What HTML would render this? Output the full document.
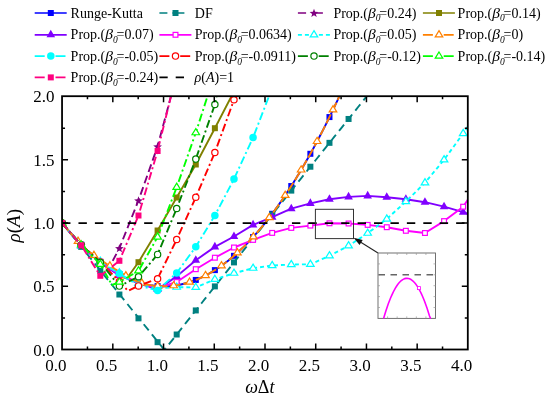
<!DOCTYPE html>
<html><head><meta charset="utf-8"><style>html,body{margin:0;padding:0;background:#fff;}svg{display:block}</style></head>
<body>
<svg width="550" height="401" viewBox="0 0 550 401" font-family="'Liberation Serif', 'Times New Roman', serif">
<rect width="550" height="401" fill="#fff"/>
<clipPath id="pc"><rect x="62.05" y="96.2" width="405.75" height="253.3"/></clipPath>
<g clip-path="url(#pc)">
<path d="M62.1,223.05 L63.11,224.31 L64.13,225.56 L65.14,226.79 L66.16,228.01 L67.17,229.22 L68.19,230.42 L69.2,231.6 L70.22,232.77 L71.23,233.93 L72.25,235.07 L73.26,236.2 L74.27,237.32 L75.29,238.43 L76.3,239.53 L77.32,240.61 L78.33,241.68 L79.35,242.73 L80.36,243.78 L81.38,244.81 L82.39,245.83 L83.4,246.84 L84.42,247.83 L85.43,248.81 L86.45,249.78 L87.46,250.73 L88.48,251.68 L89.49,252.61 L90.51,253.52 L91.52,254.43 L92.53,255.32 L93.55,256.2 L94.56,257.07 L95.58,257.92 L96.59,258.76 L97.61,259.59 L98.62,260.41 L99.64,261.21 L100.65,262 L101.67,262.78 L102.68,263.55 L103.69,264.3 L104.71,265.04 L105.72,265.77 L106.74,266.48 L107.75,267.18 L108.77,267.87 L109.78,268.55 L110.8,269.22 L111.81,269.87 L112.82,270.51 L113.84,271.13 L114.85,271.75 L115.87,272.35 L116.88,272.94 L117.9,273.51 L118.91,274.07 L119.93,274.63 L120.94,275.16 L121.96,275.69 L122.97,276.2 L123.98,276.7 L125,277.19 L126.01,277.66 L127.03,278.12 L128.04,278.57 L129.06,279.01 L130.07,279.43 L131.09,279.85 L132.1,280.24 L133.12,280.63 L134.13,281 L135.14,281.36 L136.16,281.71 L137.17,282.05 L138.19,282.37 L139.2,282.68 L140.22,282.98 L141.23,283.26 L142.25,283.53 L143.26,283.79 L144.27,284.04 L145.29,284.27 L146.3,284.5 L147.32,284.71 L148.33,284.9 L149.35,285.08 L150.36,285.26 L151.38,285.41 L152.39,285.56 L153.41,285.69 L154.42,285.81 L155.43,285.92 L156.45,286.01 L157.46,286.1 L158.48,286.17 L159.49,286.22 L160.51,286.27 L161.52,286.3 L162.54,286.32 L163.55,286.33 L164.56,286.32 L165.58,286.3 L166.59,286.27 L167.61,286.22 L168.62,286.17 L169.64,286.1 L170.65,286.01 L171.67,285.92 L172.68,285.81 L173.69,285.69 L174.71,285.56 L175.72,285.41 L176.74,285.26 L177.75,285.08 L178.77,284.9 L179.78,284.71 L180.8,284.5 L181.81,284.27 L182.83,284.04 L183.84,283.79 L184.85,283.53 L185.87,283.26 L186.88,282.98 L187.9,282.68 L188.91,282.37 L189.93,282.05 L190.94,281.71 L191.96,281.36 L192.97,281 L193.98,280.63 L195,280.24 L196.01,279.85 L197.03,279.43 L198.04,279.01 L199.06,278.57 L200.07,278.12 L201.09,277.66 L202.1,277.19 L203.12,276.7 L204.13,276.2 L205.14,275.69 L206.16,275.16 L207.17,274.63 L208.19,274.07 L209.2,273.51 L210.22,272.94 L211.23,272.35 L212.25,271.75 L213.26,271.13 L214.27,270.51 L215.29,269.87 L216.3,269.22 L217.32,268.55 L218.33,267.87 L219.35,267.18 L220.36,266.48 L221.38,265.77 L222.39,265.04 L223.41,264.3 L224.42,263.55 L225.43,262.78 L226.45,262 L227.46,261.21 L228.48,260.41 L229.49,259.59 L230.51,258.76 L231.52,257.92 L232.54,257.07 L233.55,256.2 L234.56,255.32 L235.58,254.43 L236.59,253.52 L237.61,252.61 L238.62,251.68 L239.64,250.73 L240.65,249.78 L241.67,248.81 L242.68,247.83 L243.7,246.84 L244.71,245.83 L245.72,244.81 L246.74,243.78 L247.75,242.73 L248.77,241.68 L249.78,240.61 L250.8,239.53 L251.81,238.43 L252.83,237.32 L253.84,236.2 L254.85,235.07 L255.87,233.93 L256.88,232.77 L257.9,231.6 L258.91,230.42 L259.93,229.22 L260.94,228.01 L261.96,226.79 L262.97,225.56 L263.99,224.31 L265,223.05 L266.01,221.78 L267.03,220.49 L268.04,219.2 L269.06,217.89 L270.07,216.56 L271.09,215.23 L272.1,213.88 L273.12,212.52 L274.13,211.15 L275.14,209.76 L276.16,208.36 L277.17,206.95 L278.19,205.53 L279.2,204.09 L280.22,202.64 L281.23,201.18 L282.25,199.71 L283.26,198.22 L284.28,196.72 L285.29,195.21 L286.3,193.68 L287.32,192.15 L288.33,190.6 L289.35,189.03 L290.36,187.46 L291.38,185.87 L292.39,184.27 L293.41,182.66 L294.42,181.03 L295.44,179.39 L296.45,177.74 L297.46,176.07 L298.48,174.4 L299.49,172.71 L300.51,171.01 L301.52,169.29 L302.54,167.56 L303.55,165.82 L304.57,164.07 L305.58,162.31 L306.59,160.53 L307.61,158.74 L308.62,156.93 L309.64,155.12 L310.65,153.29 L311.67,151.45 L312.68,149.59 L313.7,147.73 L314.71,145.85 L315.72,143.96 L316.74,142.05 L317.75,140.13 L318.77,138.2 L319.78,136.26 L320.8,134.31 L321.81,132.34 L322.83,130.36 L323.84,128.37 L324.86,126.36 L325.87,124.34 L326.88,122.31 L327.9,120.27 L328.91,118.21 L329.93,116.14 L330.94,114.06 L331.96,111.96 L332.97,109.86 L333.99,107.74 L335,105.61 L336.01,103.46 L337.03,101.3 L338.04,99.13 L339.06,96.95 L340.07,94.75 L341.09,92.55 L342.1,90.32 L343.12,88.09 L344.13,85.84 L345.15,83.59 L346.16,81.31 L347.17,79.03 L348.19,76.73 L349.2,74.42 L350.22,72.1" fill="none" stroke="#0000FF" stroke-width="1.9" stroke-linejoin="round"/>
<rect x="59.1" y="220.05" width="6" height="6" fill="#0000FF"/>
<rect x="78.2" y="241.63" width="6" height="6" fill="#0000FF"/>
<rect x="97.3" y="258.73" width="6" height="6" fill="#0000FF"/>
<rect x="116.39" y="271.34" width="6" height="6" fill="#0000FF"/>
<rect x="135.49" y="279.46" width="6" height="6" fill="#0000FF"/>
<rect x="154.59" y="283.11" width="6" height="6" fill="#0000FF"/>
<rect x="173.69" y="282.26" width="6" height="6" fill="#0000FF"/>
<rect x="192.79" y="276.94" width="6" height="6" fill="#0000FF"/>
<rect x="211.88" y="267.12" width="6" height="6" fill="#0000FF"/>
<rect x="230.98" y="252.83" width="6" height="6" fill="#0000FF"/>
<rect x="250.08" y="234.05" width="6" height="6" fill="#0000FF"/>
<rect x="269.18" y="210.78" width="6" height="6" fill="#0000FF"/>
<rect x="288.28" y="183.03" width="6" height="6" fill="#0000FF"/>
<rect x="307.37" y="150.79" width="6" height="6" fill="#0000FF"/>
<rect x="326.47" y="114.07" width="6" height="6" fill="#0000FF"/>
<path d="M62.1,223.05 L163.55,348.84 L165.58,348.55 L167.61,345.99 L169.64,343.42 L171.67,340.86 L173.69,338.29 L175.72,335.73 L177.75,333.17 L179.78,330.61 L181.81,328.04 L183.84,325.48 L185.87,322.93 L187.9,320.37 L189.93,317.81 L191.96,315.25 L193.98,312.69 L196.01,310.14 L198.04,307.58 L200.07,305.03 L202.1,302.47 L204.13,299.92 L206.16,297.37 L208.19,294.81 L210.22,292.26 L212.25,289.71 L214.27,287.16 L216.3,284.61 L218.33,282.06 L220.36,279.51 L222.39,276.96 L224.42,274.41 L226.45,271.86 L228.48,269.31 L230.51,266.76 L232.54,264.22 L234.56,261.67 L236.59,259.12 L238.62,256.58 L240.65,254.03 L242.68,251.49 L244.71,248.94 L246.74,246.4 L248.77,243.85 L250.8,241.31 L252.83,238.76 L254.85,236.22 L256.88,233.68 L258.91,231.13 L260.94,228.59 L262.97,226.05 L265,223.51 L267.03,220.97 L269.06,218.42 L271.09,215.88 L273.12,213.34 L275.14,210.8 L277.17,208.26 L279.2,205.72 L281.23,203.18 L283.26,200.64 L285.29,198.1 L287.32,195.56 L289.35,193.02 L291.38,190.48 L293.41,187.94 L295.43,185.4 L297.46,182.87 L299.49,180.33 L301.52,177.79 L303.55,175.25 L305.58,172.71 L307.61,170.18 L309.64,167.64 L311.67,165.1 L313.7,162.56 L315.72,160.03 L317.75,157.49 L319.78,154.95 L321.81,152.42 L323.84,149.88 L325.87,147.34 L327.9,144.81 L329.93,142.27 L331.96,139.73 L333.99,137.2 L336.01,134.66 L338.04,132.13 L340.07,129.59 L342.1,127.06 L344.13,124.52 L346.16,121.99 L348.19,119.45 L350.22,116.91 L352.25,114.38 L354.28,111.85 L356.31,109.31 L358.33,106.78 L360.36,104.24 L362.39,101.71 L364.42,99.17 L366.45,96.64 L368.48,94.1 L370.51,91.57 L372.54,89.04" fill="none" stroke="#008080" stroke-width="1.9" stroke-dasharray="8,5" stroke-linejoin="round"/>
<rect x="59.1" y="220.05" width="6" height="6" fill="#008080"/>
<rect x="78.2" y="243.87" width="6" height="6" fill="#008080"/>
<rect x="97.3" y="267.7" width="6" height="6" fill="#008080"/>
<rect x="116.39" y="291.52" width="6" height="6" fill="#008080"/>
<rect x="135.49" y="315.34" width="6" height="6" fill="#008080"/>
<rect x="154.59" y="339.17" width="6" height="6" fill="#008080"/>
<rect x="173.69" y="331.51" width="6" height="6" fill="#008080"/>
<rect x="192.79" y="307.43" width="6" height="6" fill="#008080"/>
<rect x="211.88" y="283.39" width="6" height="6" fill="#008080"/>
<rect x="230.98" y="259.4" width="6" height="6" fill="#008080"/>
<rect x="250.08" y="235.45" width="6" height="6" fill="#008080"/>
<rect x="269.18" y="211.52" width="6" height="6" fill="#008080"/>
<rect x="288.28" y="187.61" width="6" height="6" fill="#008080"/>
<rect x="307.37" y="163.72" width="6" height="6" fill="#008080"/>
<rect x="326.47" y="139.84" width="6" height="6" fill="#008080"/>
<rect x="345.57" y="115.97" width="6" height="6" fill="#008080"/>
<path d="M62.1,223.05 L81.2,245 L100.3,262 L109.5,267 L119.39,248.2 L138.49,200.4 L157.59,146.4 L172.34,91.18" fill="none" stroke="#800080" stroke-width="1.9" stroke-dasharray="8,4" stroke-linejoin="round"/>
<path d="M62.1,218.85 L63.24,221.89 L66.47,222.03 L63.94,224.05 L64.8,227.17 L62.1,225.38 L59.4,227.17 L60.26,224.05 L57.73,222.03 L60.96,221.89Z" fill="#800080"/>
<path d="M81.2,240.8 L82.33,243.84 L85.57,243.98 L83.04,246 L83.9,249.12 L81.2,247.33 L78.49,249.12 L79.36,246 L76.82,243.98 L80.06,243.84Z" fill="#800080"/>
<path d="M100.3,257.8 L101.43,260.84 L104.67,260.98 L102.13,263 L103,266.12 L100.3,264.33 L97.59,266.12 L98.46,263 L95.92,260.98 L99.16,260.84Z" fill="#800080"/>
<path d="M119.39,244 L120.53,247.04 L123.77,247.18 L121.23,249.2 L122.1,252.32 L119.39,250.53 L116.69,252.32 L117.56,249.2 L115.02,247.18 L118.26,247.04Z" fill="#800080"/>
<path d="M138.49,196.2 L139.63,199.24 L142.87,199.38 L140.33,201.4 L141.2,204.52 L138.49,202.73 L135.79,204.52 L136.65,201.4 L134.12,199.38 L137.36,199.24Z" fill="#800080"/>
<path d="M157.59,142.2 L158.73,145.24 L161.96,145.38 L159.43,147.4 L160.29,150.52 L157.59,148.73 L154.89,150.52 L155.75,147.4 L153.21,145.38 L156.45,145.24Z" fill="#800080"/>
<path d="M62.1,223.05 L81.2,245 L100.3,262 L119.39,274.5 L127.5,277.5 L138.49,262.2 L157.59,230.5 L176.69,197.5 L195.79,164.5 L214.88,128.2 L233.16,93" fill="none" stroke="#808000" stroke-width="1.9" stroke-linejoin="round"/>
<rect x="59.1" y="220.05" width="6" height="6" fill="#808000"/>
<rect x="78.2" y="242" width="6" height="6" fill="#808000"/>
<rect x="97.3" y="259" width="6" height="6" fill="#808000"/>
<rect x="116.39" y="271.5" width="6" height="6" fill="#808000"/>
<rect x="135.49" y="259.2" width="6" height="6" fill="#808000"/>
<rect x="154.59" y="227.5" width="6" height="6" fill="#808000"/>
<rect x="173.69" y="194.5" width="6" height="6" fill="#808000"/>
<rect x="192.79" y="161.5" width="6" height="6" fill="#808000"/>
<rect x="211.88" y="125.2" width="6" height="6" fill="#808000"/>
<path d="M62.1,223.05 L81.2,245.9 L100.3,262.9 L119.39,275.4 L138.49,283.4 L157.59,289.4 L176.69,276.4 L195.79,260.2 L214.88,246.9 L233.98,236.5 L253.08,224.9 L272.18,217.2 L291.28,208.7 L310.37,203.4 L329.47,199.3 L348.57,196.9 L367.67,195.9 L386.77,197.2 L405.86,199.2 L424.96,202.2 L444.06,206.7 L463.16,212.1 L467.9,213.8" fill="none" stroke="#8000FF" stroke-width="1.9" stroke-linejoin="round"/>
<path d="M62.1,217.98 L66.4,225.58 L57.8,225.58Z" fill="#8000FF"/>
<path d="M81.2,240.83 L85.5,248.43 L76.9,248.43Z" fill="#8000FF"/>
<path d="M100.3,257.83 L104.6,265.43 L96,265.43Z" fill="#8000FF"/>
<path d="M119.39,270.33 L123.69,277.93 L115.09,277.93Z" fill="#8000FF"/>
<path d="M138.49,278.33 L142.79,285.93 L134.19,285.93Z" fill="#8000FF"/>
<path d="M157.59,284.33 L161.89,291.93 L153.29,291.93Z" fill="#8000FF"/>
<path d="M176.69,271.33 L180.99,278.93 L172.39,278.93Z" fill="#8000FF"/>
<path d="M195.79,255.13 L200.09,262.73 L191.49,262.73Z" fill="#8000FF"/>
<path d="M214.88,241.83 L219.18,249.43 L210.58,249.43Z" fill="#8000FF"/>
<path d="M233.98,231.43 L238.28,239.03 L229.68,239.03Z" fill="#8000FF"/>
<path d="M253.08,219.83 L257.38,227.43 L248.78,227.43Z" fill="#8000FF"/>
<path d="M272.18,212.13 L276.48,219.73 L267.88,219.73Z" fill="#8000FF"/>
<path d="M291.28,203.63 L295.58,211.23 L286.98,211.23Z" fill="#8000FF"/>
<path d="M310.37,198.33 L314.67,205.93 L306.07,205.93Z" fill="#8000FF"/>
<path d="M329.47,194.23 L333.77,201.83 L325.17,201.83Z" fill="#8000FF"/>
<path d="M348.57,191.83 L352.87,199.43 L344.27,199.43Z" fill="#8000FF"/>
<path d="M367.67,190.83 L371.97,198.43 L363.37,198.43Z" fill="#8000FF"/>
<path d="M386.77,192.13 L391.07,199.73 L382.47,199.73Z" fill="#8000FF"/>
<path d="M405.86,194.13 L410.16,201.73 L401.56,201.73Z" fill="#8000FF"/>
<path d="M424.96,197.13 L429.26,204.73 L420.66,204.73Z" fill="#8000FF"/>
<path d="M444.06,201.63 L448.36,209.23 L439.76,209.23Z" fill="#8000FF"/>
<path d="M463.16,207.03 L467.46,214.63 L458.86,214.63Z" fill="#8000FF"/>
<path d="M62.1,223.05 L81.2,245 L100.3,262 L119.39,274.5 L138.49,282.5 L157.59,288 L176.69,282 L195.79,269.2 L214.88,257.7 L233.98,247.5 L253.08,239.9 L272.18,232.9 L291.28,227.9 L310.37,225.6 L329.47,223.3 L348.57,223.5 L367.67,224.9 L386.77,227.2 L405.86,230.8 L424.96,233 L444.06,221.1 L463.16,206.7 L467.9,199.5" fill="none" stroke="#FF00FF" stroke-width="1.9" stroke-linejoin="round"/>
<rect x="59.7" y="220.65" width="4.8" height="4.8" fill="#fff" stroke="#FF00FF" stroke-width="1.2"/>
<rect x="78.8" y="242.6" width="4.8" height="4.8" fill="#fff" stroke="#FF00FF" stroke-width="1.2"/>
<rect x="97.9" y="259.6" width="4.8" height="4.8" fill="#fff" stroke="#FF00FF" stroke-width="1.2"/>
<rect x="116.99" y="272.1" width="4.8" height="4.8" fill="#fff" stroke="#FF00FF" stroke-width="1.2"/>
<rect x="136.09" y="280.1" width="4.8" height="4.8" fill="#fff" stroke="#FF00FF" stroke-width="1.2"/>
<rect x="155.19" y="285.6" width="4.8" height="4.8" fill="#fff" stroke="#FF00FF" stroke-width="1.2"/>
<rect x="174.29" y="279.6" width="4.8" height="4.8" fill="#fff" stroke="#FF00FF" stroke-width="1.2"/>
<rect x="193.39" y="266.8" width="4.8" height="4.8" fill="#fff" stroke="#FF00FF" stroke-width="1.2"/>
<rect x="212.48" y="255.3" width="4.8" height="4.8" fill="#fff" stroke="#FF00FF" stroke-width="1.2"/>
<rect x="231.58" y="245.1" width="4.8" height="4.8" fill="#fff" stroke="#FF00FF" stroke-width="1.2"/>
<rect x="250.68" y="237.5" width="4.8" height="4.8" fill="#fff" stroke="#FF00FF" stroke-width="1.2"/>
<rect x="269.78" y="230.5" width="4.8" height="4.8" fill="#fff" stroke="#FF00FF" stroke-width="1.2"/>
<rect x="288.88" y="225.5" width="4.8" height="4.8" fill="#fff" stroke="#FF00FF" stroke-width="1.2"/>
<rect x="307.97" y="223.2" width="4.8" height="4.8" fill="#fff" stroke="#FF00FF" stroke-width="1.2"/>
<rect x="327.07" y="220.9" width="4.8" height="4.8" fill="#fff" stroke="#FF00FF" stroke-width="1.2"/>
<rect x="346.17" y="221.1" width="4.8" height="4.8" fill="#fff" stroke="#FF00FF" stroke-width="1.2"/>
<rect x="365.27" y="222.5" width="4.8" height="4.8" fill="#fff" stroke="#FF00FF" stroke-width="1.2"/>
<rect x="384.37" y="224.8" width="4.8" height="4.8" fill="#fff" stroke="#FF00FF" stroke-width="1.2"/>
<rect x="403.46" y="228.4" width="4.8" height="4.8" fill="#fff" stroke="#FF00FF" stroke-width="1.2"/>
<rect x="422.56" y="230.6" width="4.8" height="4.8" fill="#fff" stroke="#FF00FF" stroke-width="1.2"/>
<rect x="441.66" y="218.7" width="4.8" height="4.8" fill="#fff" stroke="#FF00FF" stroke-width="1.2"/>
<rect x="460.76" y="204.3" width="4.8" height="4.8" fill="#fff" stroke="#FF00FF" stroke-width="1.2"/>
<path d="M62.1,223.05 L81.2,245.9 L100.3,261.2 L119.39,272.9 L138.49,283.4 L157.59,288.4 L176.69,287.2 L195.79,287.4 L214.88,279.4 L233.98,273.2 L253.08,268.2 L272.18,265.5 L291.28,264.5 L310.37,264.3 L329.47,255.8 L348.57,245.8 L367.67,233.2 L386.77,219 L405.86,201.6 L424.96,182.8 L444.06,159.8 L463.16,133.5 L467.9,126.5" fill="none" stroke="#00FFFF" stroke-width="1.9" stroke-dasharray="4,3" stroke-linejoin="round"/>
<path d="M62.1,218.92 L65.88,225.12 L58.32,225.12Z" fill="#fff" stroke="#00FFFF" stroke-width="1.2" stroke-linejoin="miter"/>
<path d="M81.2,241.77 L84.98,247.97 L77.42,247.97Z" fill="#fff" stroke="#00FFFF" stroke-width="1.2" stroke-linejoin="miter"/>
<path d="M100.3,257.07 L104.08,263.27 L96.52,263.27Z" fill="#fff" stroke="#00FFFF" stroke-width="1.2" stroke-linejoin="miter"/>
<path d="M119.39,268.77 L123.17,274.97 L115.61,274.97Z" fill="#fff" stroke="#00FFFF" stroke-width="1.2" stroke-linejoin="miter"/>
<path d="M138.49,279.27 L142.27,285.47 L134.71,285.47Z" fill="#fff" stroke="#00FFFF" stroke-width="1.2" stroke-linejoin="miter"/>
<path d="M157.59,284.27 L161.37,290.47 L153.81,290.47Z" fill="#fff" stroke="#00FFFF" stroke-width="1.2" stroke-linejoin="miter"/>
<path d="M176.69,283.07 L180.47,289.27 L172.91,289.27Z" fill="#fff" stroke="#00FFFF" stroke-width="1.2" stroke-linejoin="miter"/>
<path d="M195.79,283.27 L199.57,289.47 L192.01,289.47Z" fill="#fff" stroke="#00FFFF" stroke-width="1.2" stroke-linejoin="miter"/>
<path d="M214.88,275.27 L218.66,281.47 L211.1,281.47Z" fill="#fff" stroke="#00FFFF" stroke-width="1.2" stroke-linejoin="miter"/>
<path d="M233.98,269.07 L237.76,275.27 L230.2,275.27Z" fill="#fff" stroke="#00FFFF" stroke-width="1.2" stroke-linejoin="miter"/>
<path d="M253.08,264.07 L256.86,270.27 L249.3,270.27Z" fill="#fff" stroke="#00FFFF" stroke-width="1.2" stroke-linejoin="miter"/>
<path d="M272.18,261.37 L275.96,267.57 L268.4,267.57Z" fill="#fff" stroke="#00FFFF" stroke-width="1.2" stroke-linejoin="miter"/>
<path d="M291.28,260.37 L295.06,266.57 L287.5,266.57Z" fill="#fff" stroke="#00FFFF" stroke-width="1.2" stroke-linejoin="miter"/>
<path d="M310.37,260.17 L314.15,266.37 L306.59,266.37Z" fill="#fff" stroke="#00FFFF" stroke-width="1.2" stroke-linejoin="miter"/>
<path d="M329.47,251.67 L333.25,257.87 L325.69,257.87Z" fill="#fff" stroke="#00FFFF" stroke-width="1.2" stroke-linejoin="miter"/>
<path d="M348.57,241.67 L352.35,247.87 L344.79,247.87Z" fill="#fff" stroke="#00FFFF" stroke-width="1.2" stroke-linejoin="miter"/>
<path d="M367.67,229.07 L371.45,235.27 L363.89,235.27Z" fill="#fff" stroke="#00FFFF" stroke-width="1.2" stroke-linejoin="miter"/>
<path d="M386.77,214.87 L390.55,221.07 L382.99,221.07Z" fill="#fff" stroke="#00FFFF" stroke-width="1.2" stroke-linejoin="miter"/>
<path d="M405.86,197.47 L409.64,203.67 L402.08,203.67Z" fill="#fff" stroke="#00FFFF" stroke-width="1.2" stroke-linejoin="miter"/>
<path d="M424.96,178.67 L428.74,184.87 L421.18,184.87Z" fill="#fff" stroke="#00FFFF" stroke-width="1.2" stroke-linejoin="miter"/>
<path d="M444.06,155.67 L447.84,161.87 L440.28,161.87Z" fill="#fff" stroke="#00FFFF" stroke-width="1.2" stroke-linejoin="miter"/>
<path d="M463.16,129.37 L466.94,135.57 L459.38,135.57Z" fill="#fff" stroke="#00FFFF" stroke-width="1.2" stroke-linejoin="miter"/>
<path d="M62.1,223.04 L63.11,224.3 L64.13,225.55 L65.14,226.78 L66.16,228 L67.17,229.2 L68.19,230.39 L69.2,231.57 L70.22,232.74 L71.23,233.89 L72.25,235.02 L73.26,236.14 L74.27,237.25 L75.29,238.34 L76.3,239.42 L77.32,240.48 L78.33,241.52 L79.35,242.55 L80.36,243.56 L81.38,244.56 L82.39,245.54 L83.4,246.49 L84.42,247.44 L85.43,248.36 L86.45,249.26 L87.46,250.15 L88.48,251.02 L89.49,251.86 L90.51,252.69 L91.52,253.5 L92.53,254.3 L93.55,255.07 L94.56,255.83 L95.58,256.57 L96.59,257.29 L97.61,258 L98.62,258.7 L99.64,259.39 L100.65,260.06 L101.67,260.72 L102.68,261.38 L103.69,262.03 L104.71,262.67 L105.72,263.3 L106.74,263.94 L107.75,264.57 L108.77,265.2 L109.78,265.83 L110.8,266.46 L111.81,267.09 L112.82,267.72 L113.84,268.36 L114.85,268.99 L115.87,269.63 L116.88,270.26 L117.9,270.9 L118.91,271.53 L119.93,272.16 L120.94,272.79 L121.96,273.41 L122.97,274.03 L123.98,274.64 L125,275.25 L126.01,275.84 L127.03,276.42 L128.04,276.99 L129.06,277.54 L130.07,278.08 L131.09,278.61 L132.1,279.12 L133.12,279.61 L134.13,280.08 L135.14,280.53 L136.16,280.97 L137.17,281.39 L138.19,281.79 L139.2,282.17 L140.22,282.53 L141.23,282.87 L142.25,283.19 L143.26,283.5 L144.27,283.79 L145.29,284.06 L146.3,284.31 L147.32,284.55 L148.33,284.77 L149.35,284.98 L150.36,285.16 L151.38,285.34 L152.39,285.5 L153.41,285.64 L154.42,285.77 L155.43,285.89 L156.45,285.99 L157.46,286.08 L158.48,286.15 L159.49,286.21 L160.51,286.26 L161.52,286.29 L162.54,286.31 L163.55,286.32 L164.56,286.31 L165.58,286.3 L166.59,286.27 L167.61,286.22 L168.62,286.17 L169.64,286.1 L170.65,286.01 L171.67,285.92 L172.68,285.81 L173.69,285.69 L174.71,285.56 L175.72,285.41 L176.74,285.26 L177.75,285.08 L178.77,284.9 L179.78,284.71 L180.8,284.5 L181.81,284.27 L182.83,284.04 L183.84,283.79 L184.85,283.53 L185.87,283.26 L186.88,282.98 L187.9,282.68 L188.91,282.37 L189.93,282.05 L190.94,281.71 L191.96,281.36 L192.97,281 L193.98,280.63 L195,280.24 L196.01,279.85 L197.03,279.43 L198.04,279.01 L199.06,278.57 L200.07,278.12 L201.09,277.66 L202.1,277.19 L203.12,276.7 L204.13,276.2 L205.14,275.69 L206.16,275.16 L207.17,274.63 L208.19,274.07 L209.2,273.51 L210.22,272.94 L211.23,272.35 L212.25,271.75 L213.26,271.13 L214.27,270.51 L215.29,269.87 L216.3,269.22 L217.32,268.55 L218.33,267.87 L219.35,267.18 L220.36,266.48 L221.38,265.77 L222.39,265.04 L223.41,264.3 L224.42,263.55 L225.43,262.78 L226.45,262 L227.46,261.21 L228.48,260.41 L229.49,259.59 L230.51,258.76 L231.52,257.92 L232.54,257.07 L233.55,256.2 L234.56,255.32 L235.58,254.43 L236.59,253.52 L237.61,252.61 L238.62,251.68 L239.64,250.73 L240.65,249.78 L241.67,248.81 L242.68,247.83 L243.7,246.84 L244.71,245.83 L245.72,244.81 L246.74,243.78 L247.75,242.73 L248.77,241.68 L249.78,240.61 L250.8,239.53 L251.81,238.43 L252.83,237.32 L253.84,236.2 L254.85,235.07 L255.87,233.93 L256.88,232.77 L257.9,231.6 L258.91,230.42 L259.93,229.22 L260.94,228.01 L261.96,226.79 L262.97,225.56 L263.99,224.31 L265,223.05 L266.01,221.78 L267.03,220.49 L268.04,219.2 L269.06,217.89 L270.07,216.56 L271.09,215.23 L272.1,213.88 L273.12,212.52 L274.13,211.15 L275.14,209.76 L276.16,208.36 L277.17,206.95 L278.19,205.53 L279.2,204.09 L280.22,202.64 L281.23,201.18 L282.25,199.71 L283.26,198.22 L284.28,196.72 L285.29,195.21 L286.3,193.68 L287.32,192.15 L288.33,190.6 L289.35,189.03 L290.36,187.46 L291.38,185.87 L292.39,184.27 L293.41,182.66 L294.42,181.03 L295.44,179.39 L296.45,177.74 L297.46,176.07 L298.48,174.4 L299.49,172.71 L300.51,171.01 L301.52,169.29 L302.54,167.56 L303.55,165.82 L304.57,164.07 L305.58,162.31 L306.59,160.53 L307.61,158.74 L308.62,156.93 L309.64,155.12 L310.65,153.29 L311.67,151.45 L312.68,149.59 L313.7,147.73 L314.71,145.85 L315.72,143.96 L316.74,142.05 L317.75,140.13 L318.77,138.2 L319.78,136.26 L320.8,134.31 L321.81,132.34 L322.83,130.36 L323.84,128.37 L324.86,126.36 L325.87,124.34 L326.88,122.31 L327.9,120.27 L328.91,118.21 L329.93,116.14 L330.94,114.06 L331.96,111.96 L332.97,109.86 L333.99,107.74 L335,105.61 L336.01,103.46 L337.03,101.3 L338.04,99.13 L339.06,96.95 L340.07,94.75 L341.09,92.55 L342.1,90.32 L343.12,88.09 L344.13,85.84 L345.15,83.59 L346.16,81.31 L347.17,79.03 L348.19,76.73 L349.2,74.42 L350.22,72.1" fill="none" stroke="#FF8000" stroke-width="1.9" stroke-dasharray="10,3" stroke-linejoin="round"/>
<path d="M62.1,218.91 L65.88,225.11 L58.32,225.11Z" fill="#fff" stroke="#FF8000" stroke-width="1.2" stroke-linejoin="miter"/>
<path d="M78.04,237.09 L81.82,243.29 L74.26,243.29Z" fill="#fff" stroke="#FF8000" stroke-width="1.2" stroke-linejoin="miter"/>
<path d="M93.97,251.25 L97.75,257.45 L90.19,257.45Z" fill="#fff" stroke="#FF8000" stroke-width="1.2" stroke-linejoin="miter"/>
<path d="M109.91,261.77 L113.69,267.97 L106.13,267.97Z" fill="#fff" stroke="#FF8000" stroke-width="1.2" stroke-linejoin="miter"/>
<path d="M125.84,271.61 L129.62,277.81 L122.06,277.81Z" fill="#fff" stroke="#FF8000" stroke-width="1.2" stroke-linejoin="miter"/>
<path d="M141.78,278.91 L145.56,285.11 L138,285.11Z" fill="#fff" stroke="#FF8000" stroke-width="1.2" stroke-linejoin="miter"/>
<path d="M157.71,281.96 L161.49,288.16 L153.93,288.16Z" fill="#fff" stroke="#FF8000" stroke-width="1.2" stroke-linejoin="miter"/>
<path d="M173.65,281.56 L177.43,287.76 L169.87,287.76Z" fill="#fff" stroke="#FF8000" stroke-width="1.2" stroke-linejoin="miter"/>
<path d="M189.59,278.02 L193.37,284.22 L185.81,284.22Z" fill="#fff" stroke="#FF8000" stroke-width="1.2" stroke-linejoin="miter"/>
<path d="M205.52,271.36 L209.3,277.56 L201.74,277.56Z" fill="#fff" stroke="#FF8000" stroke-width="1.2" stroke-linejoin="miter"/>
<path d="M221.46,261.58 L225.24,267.78 L217.68,267.78Z" fill="#fff" stroke="#FF8000" stroke-width="1.2" stroke-linejoin="miter"/>
<path d="M237.39,248.67 L241.17,254.87 L233.61,254.87Z" fill="#fff" stroke="#FF8000" stroke-width="1.2" stroke-linejoin="miter"/>
<path d="M253.33,232.64 L257.11,238.84 L249.55,238.84Z" fill="#fff" stroke="#FF8000" stroke-width="1.2" stroke-linejoin="miter"/>
<path d="M269.26,213.49 L273.04,219.69 L265.48,219.69Z" fill="#fff" stroke="#FF8000" stroke-width="1.2" stroke-linejoin="miter"/>
<path d="M285.2,191.21 L288.98,197.41 L281.42,197.41Z" fill="#fff" stroke="#FF8000" stroke-width="1.2" stroke-linejoin="miter"/>
<path d="M301.14,165.81 L304.92,172.01 L297.36,172.01Z" fill="#fff" stroke="#FF8000" stroke-width="1.2" stroke-linejoin="miter"/>
<path d="M317.07,137.29 L320.85,143.49 L313.29,143.49Z" fill="#fff" stroke="#FF8000" stroke-width="1.2" stroke-linejoin="miter"/>
<path d="M333.01,105.65 L336.79,111.85 L329.23,111.85Z" fill="#fff" stroke="#FF8000" stroke-width="1.2" stroke-linejoin="miter"/>
<path d="M62.1,223.05 L81.2,245 L100.3,262.5 L119.39,273.5 L138.49,285.5 L157.59,290.4 L176.69,273 L195.79,246.8 L214.88,215.5 L233.98,179.1 L253.08,137.5 L270.59,92.07" fill="none" stroke="#00FFFF" stroke-width="1.9" stroke-dasharray="8,3,2,3" stroke-linejoin="round"/>
<circle cx="62.1" cy="223.05" r="3.75" fill="#00FFFF"/>
<circle cx="81.2" cy="245" r="3.75" fill="#00FFFF"/>
<circle cx="100.3" cy="262.5" r="3.75" fill="#00FFFF"/>
<circle cx="119.39" cy="273.5" r="3.75" fill="#00FFFF"/>
<circle cx="138.49" cy="285.5" r="3.75" fill="#00FFFF"/>
<circle cx="157.59" cy="290.4" r="3.75" fill="#00FFFF"/>
<circle cx="176.69" cy="273" r="3.75" fill="#00FFFF"/>
<circle cx="195.79" cy="246.8" r="3.75" fill="#00FFFF"/>
<circle cx="214.88" cy="215.5" r="3.75" fill="#00FFFF"/>
<circle cx="233.98" cy="179.1" r="3.75" fill="#00FFFF"/>
<circle cx="253.08" cy="137.5" r="3.75" fill="#00FFFF"/>
<path d="M62.1,223.05 L81.2,245 L100.3,262 L119.39,281.5 L128,291 L138.49,285.9 L157.59,278.7 L176.69,239.5 L195.79,197.3 L214.88,152.5 L233.98,99.8 L235.1,95.84" fill="none" stroke="#FF0000" stroke-width="1.9" stroke-dasharray="8,3,2,3" stroke-linejoin="round"/>
<circle cx="62.1" cy="223.05" r="3.15" fill="#fff" stroke="#FF0000" stroke-width="1.2"/>
<circle cx="81.2" cy="245" r="3.15" fill="#fff" stroke="#FF0000" stroke-width="1.2"/>
<circle cx="100.3" cy="262" r="3.15" fill="#fff" stroke="#FF0000" stroke-width="1.2"/>
<circle cx="119.39" cy="281.5" r="3.15" fill="#fff" stroke="#FF0000" stroke-width="1.2"/>
<circle cx="138.49" cy="285.9" r="3.15" fill="#fff" stroke="#FF0000" stroke-width="1.2"/>
<circle cx="157.59" cy="278.7" r="3.15" fill="#fff" stroke="#FF0000" stroke-width="1.2"/>
<circle cx="176.69" cy="239.5" r="3.15" fill="#fff" stroke="#FF0000" stroke-width="1.2"/>
<circle cx="195.79" cy="197.3" r="3.15" fill="#fff" stroke="#FF0000" stroke-width="1.2"/>
<circle cx="214.88" cy="152.5" r="3.15" fill="#fff" stroke="#FF0000" stroke-width="1.2"/>
<circle cx="233.98" cy="99.8" r="3.15" fill="#fff" stroke="#FF0000" stroke-width="1.2"/>
<path d="M62.1,223.05 L81.2,245 L100.3,262.5 L119.39,286.1 L138.49,276.8 L157.59,254.4 L176.69,208.5 L195.79,159.1 L214.88,104.5 L216.66,95.37" fill="none" stroke="#008000" stroke-width="1.9" stroke-dasharray="8,3,2,3" stroke-linejoin="round"/>
<circle cx="62.1" cy="223.05" r="3.15" fill="#fff" stroke="#008000" stroke-width="1.2"/>
<circle cx="81.2" cy="245" r="3.15" fill="#fff" stroke="#008000" stroke-width="1.2"/>
<circle cx="100.3" cy="262.5" r="3.15" fill="#fff" stroke="#008000" stroke-width="1.2"/>
<circle cx="119.39" cy="286.1" r="3.15" fill="#fff" stroke="#008000" stroke-width="1.2"/>
<circle cx="138.49" cy="276.8" r="3.15" fill="#fff" stroke="#008000" stroke-width="1.2"/>
<circle cx="157.59" cy="254.4" r="3.15" fill="#fff" stroke="#008000" stroke-width="1.2"/>
<circle cx="176.69" cy="208.5" r="3.15" fill="#fff" stroke="#008000" stroke-width="1.2"/>
<circle cx="195.79" cy="159.1" r="3.15" fill="#fff" stroke="#008000" stroke-width="1.2"/>
<circle cx="214.88" cy="104.5" r="3.15" fill="#fff" stroke="#008000" stroke-width="1.2"/>
<path d="M62.1,223.05 L81.2,244.9 L100.3,264.4 L112,285 L119.39,282.1 L138.49,270.9 L157.59,237 L176.69,187.3 L195.79,132.7 L208.67,92.55" fill="none" stroke="#00FF00" stroke-width="1.9" stroke-dasharray="8,3,2,3" stroke-linejoin="round"/>
<path d="M62.1,218.92 L65.88,225.12 L58.32,225.12Z" fill="#fff" stroke="#00FF00" stroke-width="1.2" stroke-linejoin="miter"/>
<path d="M81.2,240.77 L84.98,246.97 L77.42,246.97Z" fill="#fff" stroke="#00FF00" stroke-width="1.2" stroke-linejoin="miter"/>
<path d="M100.3,260.27 L104.08,266.47 L96.52,266.47Z" fill="#fff" stroke="#00FF00" stroke-width="1.2" stroke-linejoin="miter"/>
<path d="M119.39,277.97 L123.17,284.17 L115.61,284.17Z" fill="#fff" stroke="#00FF00" stroke-width="1.2" stroke-linejoin="miter"/>
<path d="M138.49,266.77 L142.27,272.97 L134.71,272.97Z" fill="#fff" stroke="#00FF00" stroke-width="1.2" stroke-linejoin="miter"/>
<path d="M157.59,232.87 L161.37,239.07 L153.81,239.07Z" fill="#fff" stroke="#00FF00" stroke-width="1.2" stroke-linejoin="miter"/>
<path d="M176.69,183.17 L180.47,189.37 L172.91,189.37Z" fill="#fff" stroke="#00FF00" stroke-width="1.2" stroke-linejoin="miter"/>
<path d="M195.79,128.57 L199.57,134.77 L192.01,134.77Z" fill="#fff" stroke="#00FF00" stroke-width="1.2" stroke-linejoin="miter"/>
<path d="M62.1,223.05 L81.2,245.3 L100.3,275.8 L119.39,260.8 L138.49,215.5 L157.59,151 L172.34,90.72" fill="none" stroke="#FF0080" stroke-width="1.9" stroke-dasharray="8,3,2,3" stroke-linejoin="round"/>
<rect x="59.1" y="220.05" width="6" height="6" fill="#FF0080"/>
<rect x="78.2" y="242.3" width="6" height="6" fill="#FF0080"/>
<rect x="97.3" y="272.8" width="6" height="6" fill="#FF0080"/>
<rect x="116.39" y="257.8" width="6" height="6" fill="#FF0080"/>
<rect x="135.49" y="212.5" width="6" height="6" fill="#FF0080"/>
<rect x="154.59" y="148" width="6" height="6" fill="#FF0080"/>
<path d="M62.05,223.05H467.8" stroke="#000" stroke-width="1.8" stroke-dasharray="8.4,8.02"/>
</g>
<rect x="315.4" y="209.3" width="38.1" height="29.3" fill="none" stroke="#333" stroke-width="1"/>
<path d="M378,253 L360,241.7" stroke="#222" stroke-width="1.1"/>
<path d="M353.6,237.8 L362.7,240.1 L359.6,245.0 Z" fill="#111"/>
<rect x="378" y="253" width="57.5" height="65.4" fill="#fff" stroke="#6a6a6a" stroke-width="0.95"/>
<path d="M387.58,318.4v-2 M387.58,253v2 M397.17,318.4v-2 M397.17,253v2 M406.75,318.4v-2 M406.75,253v2 M416.33,318.4v-2 M416.33,253v2 M425.92,318.4v-2 M425.92,253v2 M378,263.9h2 M435.5,263.9h-2 M378,274.8h2 M435.5,274.8h-2 M378,285.7h2 M435.5,285.7h-2 M378,296.6h2 M435.5,296.6h-2 M378,307.5h2 M435.5,307.5h-2" stroke="#999" stroke-width="0.7"/>
<path d="M378.5,274.7H435" stroke="#666" stroke-width="1.6" stroke-dasharray="6.5,5.5"/>
<path d="M383.6,318.4 L384.78,314.46 L385.95,310.72 L387.12,307.18 L388.3,303.85 L389.48,300.73 L390.65,297.8 L391.83,295.09 L393,292.57 L394.18,290.26 L395.35,288.15 L396.53,286.25 L397.7,284.55 L398.88,283.06 L400.05,281.77 L401.23,280.68 L402.4,279.8 L403.58,279.12 L404.75,278.64 L405.93,278.37 L407.1,278.3 L408.28,278.44 L409.45,278.78 L410.62,279.32 L411.8,280.07 L412.98,281.03 L414.15,282.18 L415.33,283.54 L416.5,285.11 L417.68,286.88 L418.85,288.85 L420.03,291.02 L421.2,293.4 L422.38,295.99 L423.55,298.78 L424.73,301.77 L425.9,304.96 L427.08,308.36 L428.25,311.97 L429.43,315.78 L430.6,318.6" fill="none" stroke="#FF00FF" stroke-width="1.6"/>
<rect x="417.4" y="286.6" width="3" height="3" fill="#fff" stroke="#FF00FF" stroke-width="0.8"/>
<path d="M87.46,349.5v-3 M87.46,96.2v3 M112.82,349.5v-6 M112.82,96.2v6 M138.19,349.5v-3 M138.19,96.2v3 M163.55,349.5v-6 M163.55,96.2v6 M188.91,349.5v-3 M188.91,96.2v3 M214.27,349.5v-6 M214.27,96.2v6 M239.64,349.5v-3 M239.64,96.2v3 M265,349.5v-6 M265,96.2v6 M290.36,349.5v-3 M290.36,96.2v3 M315.72,349.5v-6 M315.72,96.2v6 M341.09,349.5v-3 M341.09,96.2v3 M366.45,349.5v-6 M366.45,96.2v6 M391.81,349.5v-3 M391.81,96.2v3 M417.17,349.5v-6 M417.17,96.2v6 M442.54,349.5v-3 M442.54,96.2v3 M62.05,317.96h3 M467.8,317.96h-3 M62.05,286.33h6 M467.8,286.33h-6 M62.05,254.69h3 M467.8,254.69h-3 M62.05,223.05h6 M467.8,223.05h-6 M62.05,191.41h3 M467.8,191.41h-3 M62.05,159.78h6 M467.8,159.78h-6 M62.05,128.14h3 M467.8,128.14h-3" stroke="#000" stroke-width="1.5" fill="none"/>
<rect x="62.05" y="96.2" width="405.75" height="253.3" fill="none" stroke="#000" stroke-width="1.8"/>
<text x="55.8" y="370.6" text-anchor="middle" font-size="17">0.0</text>
<text x="106.52" y="370.6" text-anchor="middle" font-size="17">0.5</text>
<text x="157.25" y="370.6" text-anchor="middle" font-size="17">1.0</text>
<text x="207.97" y="370.6" text-anchor="middle" font-size="17">1.5</text>
<text x="258.7" y="370.6" text-anchor="middle" font-size="17">2.0</text>
<text x="309.42" y="370.6" text-anchor="middle" font-size="17">2.5</text>
<text x="360.15" y="370.6" text-anchor="middle" font-size="17">3.0</text>
<text x="410.87" y="370.6" text-anchor="middle" font-size="17">3.5</text>
<text x="461.6" y="370.6" text-anchor="middle" font-size="17">4.0</text>
<text x="54.6" y="355.5" text-anchor="end" font-size="17">0.0</text>
<text x="54.6" y="292.23" text-anchor="end" font-size="17">0.5</text>
<text x="54.6" y="228.95" text-anchor="end" font-size="17">1.0</text>
<text x="54.6" y="165.68" text-anchor="end" font-size="17">1.5</text>
<text x="54.6" y="102.4" text-anchor="end" font-size="17">2.0</text>
<text x="259.8" y="392.6" text-anchor="middle" font-size="18"><tspan font-style="italic">ω</tspan>Δ<tspan font-style="italic">t</tspan></text>
<text transform="translate(20,225.7) rotate(-90)" text-anchor="middle" font-size="19"><tspan font-style="italic">ρ</tspan>(<tspan font-style="italic">A</tspan>)</text>
<path d="M34.7,13h32.0" stroke="#0000FF" stroke-width="1.7"/>
<rect x="47.8" y="10" width="6" height="6" fill="#0000FF"/>
<text x="70.6" y="17.6" font-size="14">Runge-Kutta</text>
<path d="M159.4,13h8 M172.4,13h12" stroke="#008080" stroke-width="1.7"/>
<rect x="172.5" y="10" width="6" height="6" fill="#008080"/>
<text x="194.8" y="17.6" font-size="14">DF</text>
<path d="M297.9,13h8.2 M315.9,13h7" stroke="#800080" stroke-width="1.7"/>
<path d="M314,8.8 L315.14,11.84 L318.37,11.98 L315.84,14 L316.7,17.12 L314,15.33 L311.3,17.12 L312.16,14 L309.63,11.98 L312.86,11.84Z" fill="#800080"/>
<text x="333.4" y="17.6" font-size="14">Prop.(<tspan font-style="italic" font-size="15.5">β</tspan><tspan font-style="italic" font-size="9.5" dy="3.8">0</tspan><tspan dx="-1.2" dy="-3.8">=0.24)</tspan></text>
<path d="M422.9,13h32.0" stroke="#808000" stroke-width="1.7"/>
<rect x="436" y="10" width="6" height="6" fill="#808000"/>
<text x="457.6" y="17.6" font-size="14">Prop.(<tspan font-style="italic" font-size="15.5">β</tspan><tspan font-style="italic" font-size="9.5" dy="3.8">0</tspan><tspan dx="-1.2" dy="-3.8">=0.14)</tspan></text>
<path d="M34.7,34.8h32.0" stroke="#8000FF" stroke-width="1.7"/>
<path d="M50.8,29.73 L55.1,37.33 L46.5,37.33Z" fill="#8000FF"/>
<text x="70.6" y="39.4" font-size="14">Prop.(<tspan font-style="italic" font-size="15.5">β</tspan><tspan font-style="italic" font-size="9.5" dy="3.8">0</tspan><tspan dx="-1.2" dy="-3.8">=0.07)</tspan></text>
<path d="M159.4,34.8h32.0" stroke="#FF00FF" stroke-width="1.7"/>
<rect x="173.1" y="32.4" width="4.8" height="4.8" fill="#fff" stroke="#FF00FF" stroke-width="1.2"/>
<text x="194.8" y="39.4" font-size="14">Prop.(<tspan font-style="italic" font-size="15.5">β</tspan><tspan font-style="italic" font-size="9.5" dy="3.8">0</tspan><tspan dx="-1.2" dy="-3.8">=0.0634)</tspan></text>
<path d="M297.9,34.8h32.0" stroke="#00FFFF" stroke-width="1.7" stroke-dasharray="4,3"/>
<path d="M314,30.67 L317.78,36.87 L310.22,36.87Z" fill="#fff" stroke="#00FFFF" stroke-width="1.2" stroke-linejoin="miter"/>
<text x="333.4" y="39.4" font-size="14">Prop.(<tspan font-style="italic" font-size="15.5">β</tspan><tspan font-style="italic" font-size="9.5" dy="3.8">0</tspan><tspan dx="-1.2" dy="-3.8">=0.05)</tspan></text>
<path d="M422.9,34.8h10 M443.7,34.8h10" stroke="#FF8000" stroke-width="1.7"/>
<path d="M439,30.67 L442.78,36.87 L435.22,36.87Z" fill="#fff" stroke="#FF8000" stroke-width="1.2" stroke-linejoin="miter"/>
<text x="457.6" y="39.4" font-size="14">Prop.(<tspan font-style="italic" font-size="15.5">β</tspan><tspan font-style="italic" font-size="9.5" dy="3.8">0</tspan><tspan dx="-1.2" dy="-3.8">=0)</tspan></text>
<path d="M34.7,56.1h10 M55.5,56.1h10" stroke="#00FFFF" stroke-width="1.7"/>
<circle cx="50.8" cy="56.1" r="3.75" fill="#00FFFF"/>
<text x="70.6" y="60.7" font-size="14">Prop.(<tspan font-style="italic" font-size="15.5">β</tspan><tspan font-style="italic" font-size="9.5" dy="3.8">0</tspan><tspan dx="-1.2" dy="-3.8">=-0.05)</tspan></text>
<path d="M159.4,56.1h10 M180.2,56.1h10" stroke="#FF0000" stroke-width="1.7"/>
<circle cx="175.5" cy="56.1" r="3.15" fill="#fff" stroke="#FF0000" stroke-width="1.2"/>
<text x="194.8" y="60.7" font-size="14">Prop.(<tspan font-style="italic" font-size="15.5">β</tspan><tspan font-style="italic" font-size="9.5" dy="3.8">0</tspan><tspan dx="-1.2" dy="-3.8">=-0.0911)</tspan></text>
<path d="M297.9,56.1h10 M318.7,56.1h10" stroke="#008000" stroke-width="1.7"/>
<circle cx="314" cy="56.1" r="3.15" fill="#fff" stroke="#008000" stroke-width="1.2"/>
<text x="333.4" y="60.7" font-size="14">Prop.(<tspan font-style="italic" font-size="15.5">β</tspan><tspan font-style="italic" font-size="9.5" dy="3.8">0</tspan><tspan dx="-1.2" dy="-3.8">=-0.12)</tspan></text>
<path d="M422.9,56.1h10 M443.7,56.1h10" stroke="#00FF00" stroke-width="1.7"/>
<path d="M439,51.97 L442.78,58.17 L435.22,58.17Z" fill="#fff" stroke="#00FF00" stroke-width="1.2" stroke-linejoin="miter"/>
<text x="457.6" y="60.7" font-size="14">Prop.(<tspan font-style="italic" font-size="15.5">β</tspan><tspan font-style="italic" font-size="9.5" dy="3.8">0</tspan><tspan dx="-1.2" dy="-3.8">=-0.14)</tspan></text>
<path d="M34.7,77.4h10 M55.5,77.4h10" stroke="#FF0080" stroke-width="1.7"/>
<rect x="47.8" y="74.4" width="6" height="6" fill="#FF0080"/>
<text x="70.6" y="82" font-size="14">Prop.(<tspan font-style="italic" font-size="15.5">β</tspan><tspan font-style="italic" font-size="9.5" dy="3.8">0</tspan><tspan dx="-1.2" dy="-3.8">=-0.24)</tspan></text>
<path d="M159.4,77.4h8.3 M175.7,77.4h8.3" stroke="#000" stroke-width="1.8"/>
<text x="194.5" y="82" font-size="14"><tspan font-style="italic">ρ</tspan>(<tspan font-style="italic">A</tspan>)=1</text>
</svg>
</body></html>
